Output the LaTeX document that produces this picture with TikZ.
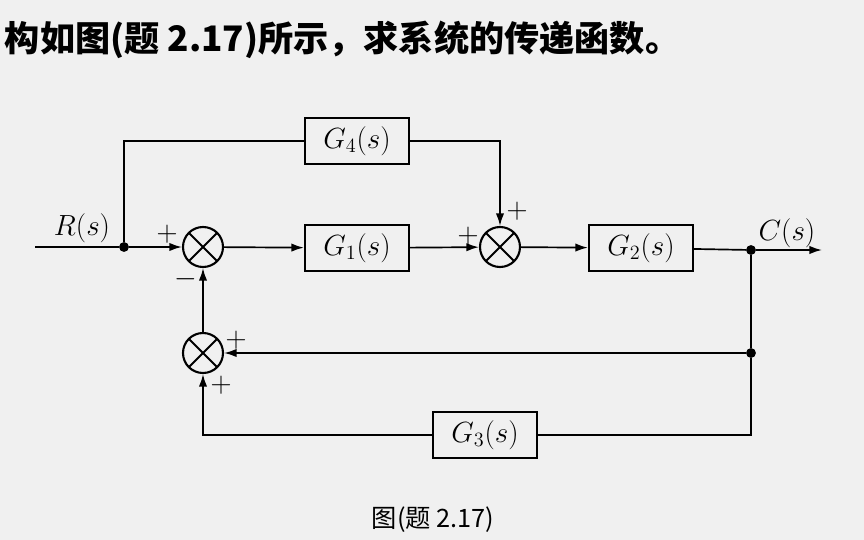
\documentclass[tikz,border=0pt]{standalone}
\usepackage{fontspec}
\newfontfamily\cjk{Noto Sans CJK SC}
\usetikzlibrary{arrows.meta}
\begin{document}
\begin{tikzpicture}[x=0.025cm,y=-0.025cm,
  blk/.style={draw,line width=1.5pt,minimum width=2.6cm,minimum height=1.17cm,inner sep=0pt,font=\fontsize{22}{26}\selectfont},
  sumj/.style={draw,line width=1.5pt,circle,minimum size=1cm,inner sep=0pt,path picture={\draw[line width=1.5pt] (path picture bounding box.north west)--(path picture bounding box.south east) (path picture bounding box.north east)--(path picture bounding box.south west);}},
  ln/.style={line width=1.2pt},
  ar/.style={ln,-{Latex[length=9pt,width=6pt]}},
  dot/.style={circle,fill,inner sep=0pt,minimum size=7pt},
  sg/.style={font=\fontsize{22}{26}\selectfont}]
\fill[gray!12] (0,0) rectangle (864,540);
\useasboundingbox (0,0) rectangle (864,540);
\node[anchor=west,font=\cjk\bfseries\fontsize{25}{28}\selectfont] (title) at (0,40) {构如图(题 2.17)所示，求系统的传递函数。};
\node[sumj] (s1) at (203,247) {};
\node[sumj] (s2) at (500,247) {};
\node[sumj] (s3) at (203,353) {};
\node[blk] (g1) at (357,248) {$G_1(s)$};
\node[blk] (g4) at (357,141) {$G_4(s)$};
\node[blk] (g2) at (641,248) {$G_2(s)$};
\node[blk] (g3) at (485,435) {$G_3(s)$};
\coordinate (rin) at (35,247);
\node[dot] (b1) at (124,247) {};
\node[dot] (b2) at (751,250) {};
\node[dot] (b3) at (751,353) {};
\coordinate (cout) at (822,250);
\node[sg] (rl) at (82,228) {$R(s)$};
\node[sg] (cl) at (787,233) {$C(s)$};
\draw[ln] (rin) -- (b1);
\draw[ar] (b1) -- (s1);
\draw[ar] (s1) -- (g1);
\draw[ar] (g1) -- (s2);
\draw[ar] (s2) -- (g2);
\draw[ln] (g2) -- (b2);
\draw[ar] (b2) -- (cout);
\draw[ln] (b1) |- (g4);
\draw[ar] (g4) -| (s2);
\draw[ln] (b2) -- (b3);
\draw[ar] (b3) -- (s3);
\draw[ln] (b3) |- (g3);
\draw[ar] (g3) -| (s3);
\draw[ar] (s3) -- (s1);
\node[sg] (p1) at (167,234) {$+$};
\node[sg] (m1) at (186,279) {$-$};
\node[sg] (p2) at (468,236) {$+$};
\node[sg] (p3) at (517,211) {$+$};
\node[sg] (p4) at (236,340) {$+$};
\node[sg] (p5) at (221,385) {$+$};
\node[font=\cjk\fontsize{18}{20}\selectfont] (cap) at (433,520) {图(题 2.17)};
\end{tikzpicture}
\end{document}
